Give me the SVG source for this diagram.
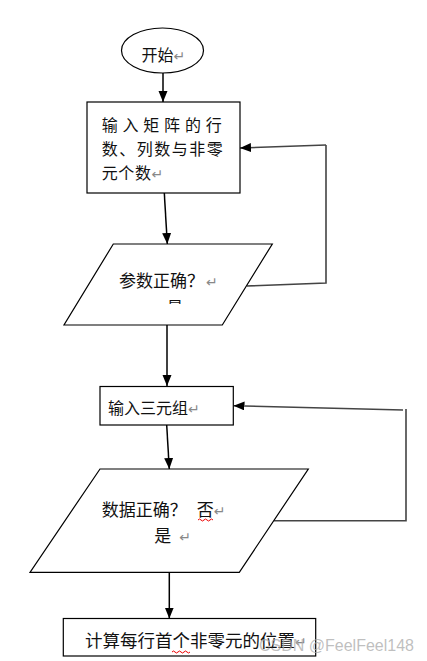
<svg xmlns="http://www.w3.org/2000/svg" width="427" height="661" viewBox="0 0 427 661">
<style>
.shape{fill:#fff;stroke:#000;stroke-width:1.2}
.conn{fill:none;stroke:#000;stroke-width:1.5}
.fb{fill:none;stroke:#444;stroke-width:1.6}
.t{font-family:"Noto Sans CJK SC","Noto Sans",sans-serif;fill:#111}
.rt{font-family:"DejaVu Sans",sans-serif;fill:#888;font-size:14px}
.wave{fill:none;stroke:#e00;stroke-width:1}
</style>
<defs>
<marker id="ah" markerUnits="userSpaceOnUse" markerWidth="12" markerHeight="10" refX="11" refY="4.5" orient="auto">
<path d="M0,0 L11,4.5 L0,9 z" fill="#000"/>
</marker>
<clipPath id="clipShi"><rect x="150" y="290" width="60" height="14"/></clipPath>
</defs>
<rect width="427" height="661" fill="#fff"/>
<g id="connectors">
<line class="conn" x1="163" y1="73" x2="163" y2="102" marker-end="url(#ah)"/>
<line class="conn" x1="164.3" y1="193" x2="167.3" y2="244" marker-end="url(#ah)"/>
<line class="conn" x1="167" y1="325" x2="167" y2="386" marker-end="url(#ah)"/>
<line class="conn" x1="166.7" y1="425" x2="169.3" y2="469" marker-end="url(#ah)"/>
<line class="conn" x1="169.3" y1="572.5" x2="169.3" y2="618.5" marker-end="url(#ah)"/>
<polyline class="fb" points="247,286 326,283 326,145"/>
<line class="fb" x1="326" y1="145" x2="240" y2="148" marker-end="url(#ah)"/>
<polyline class="fb" points="274,520.7 406,520.7 406,409"/>
<line class="fb" x1="403" y1="410" x2="233.5" y2="405.7" marker-end="url(#ah)"/>
</g>
<g id="start">
<ellipse class="shape" cx="162.5" cy="50.5" rx="41" ry="22.5"/>
<text class="t" x="141.5" y="61" font-size="16">开始<tspan class="rt">↵</tspan></text>
</g>
<g id="input-dims">
<rect class="shape" x="87" y="102" width="153" height="91"/>
<text class="t" x="101.7" y="131" font-size="16" textLength="120" lengthAdjust="spacing">输入矩阵的行</text>
<text class="t" x="101.7" y="155" font-size="16" textLength="121" lengthAdjust="spacing">数、列数与非零</text>
<text class="t" x="101.7" y="179" font-size="16" letter-spacing="0.6">元个数<tspan class="rt">↵</tspan></text>
</g>
<g id="check-params">
<polygon class="shape" points="113.3,244 272.3,244 222.3,325 64,325"/>
<text class="t" x="119" y="287" font-size="17">参数正确？<tspan class="rt" dx="2">↵</tspan></text>
<text class="t" x="167" y="313" font-size="16" clip-path="url(#clipShi)">是<tspan class="rt" dx="2">↵</tspan></text>
</g>
<g id="input-triples">
<rect class="shape" x="100" y="386.5" width="133.3" height="38.5"/>
<text class="t" x="108" y="414" font-size="16">输入三元组<tspan class="rt">↵</tspan></text>
</g>
<g id="check-data">
<polygon class="shape" points="100,469 308.3,469 239.3,572.3 30,572.3"/>
<text class="t" x="101.7" y="516" font-size="17">数据正确？<tspan dx="10">否</tspan><tspan class="rt">↵</tspan></text>
<path class="wave" d="M198,520 q1.5,-2 3,0 t3,0 t3,0 t3,0 t3,0"/>
<text class="t" x="154.3" y="542" font-size="17">是<tspan class="rt" dx="8">↵</tspan></text>
</g>
<g id="compute-positions">
<rect class="shape" x="63.3" y="618.5" width="252.4" height="37.5"/>
<text class="t" x="85" y="647" font-size="17.5">计算每行首个非零元的位置<tspan class="rt">↵</tspan></text>
<path class="wave" d="M172,652 q1.5,-2 3,0 t3,0 t3,0 t3,0 t3,0 t3,0"/>
</g>
<text x="259" y="651" font-family="'Liberation Sans',sans-serif" font-size="16" fill="#aaa" fill-opacity="0.75">CSDN @FeelFeel148</text>
</svg>
